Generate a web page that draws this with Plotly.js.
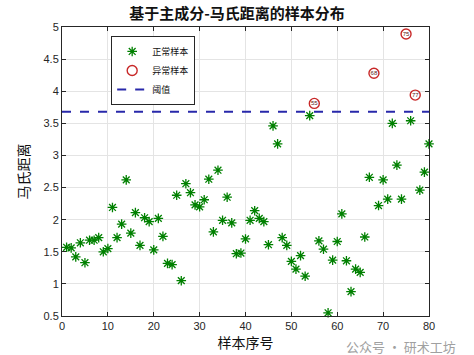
<!DOCTYPE html>
<html>
<head>
<meta charset="utf-8">
<script src="https://cdn.plot.ly/plotly-3.0.1.min.js"></script>
<style>html,body{margin:0;padding:0;background:#fff;}#chart{width:474px;height:355px;}</style>
</head>
<body>
<div id="chart"></div>
<script>
// Sample index 1..80; normal samples (anomalies 55, 68, 75, 77 excluded)
const normalIdx = [1,2,3,4,5,6,7,8,9,10,11,12,13,14,15,16,17,18,19,20,
  21,22,23,24,25,26,27,28,29,30,31,32,33,34,35,36,37,38,39,40,
  41,42,43,44,45,46,47,48,49,50,51,52,53,54,56,57,58,59,60,
  61,62,63,64,65,66,67,69,70,71,72,73,74,76,78,79,80];
const normalDist = [1.57,1.56,1.42,1.64,1.33,1.68,1.68,1.72,1.50,1.55,2.19,1.72,1.93,2.62,1.79,2.11,1.60,2.03,1.97,1.53,
  2.02,1.74,1.32,1.30,2.38,1.05,2.56,2.42,2.23,2.20,2.31,2.63,1.81,2.77,1.99,2.35,1.95,1.47,1.48,1.70,
  1.99,2.14,2.02,1.97,1.61,3.46,3.18,1.72,1.60,1.35,1.23,1.44,1.12,3.62,1.67,1.54,0.55,1.37,1.66,
  2.09,1.36,0.88,1.23,1.18,1.73,2.66,2.22,2.62,2.32,3.50,2.85,2.32,3.54,2.46,2.74,3.18];
const anomalyIdx = [55,68,75,77];
const anomalyDist = [3.81,4.28,4.89,3.94];
const threshold = 3.68;
const xRange = [0,80];
const yRange = [0.5,5];
const xTicks = [0,10,20,30,40,50,60,70,80];
const yTicks = [0.5,1,1.5,2,2.5,3,3.5,4,4.5,5];

const traces = [
  {x: normalIdx, y: normalDist, type:'scatter', mode:'markers', name:'正常样本',
   marker:{symbol:'asterisk-open', size:8, color:'rgb(0,128,0)', line:{color:'rgb(0,128,0)', width:1.3}},
   cliponaxis:false},
  {x: anomalyIdx, y: anomalyDist, type:'scatter', mode:'markers+text', name:'异常样本',
   text: anomalyIdx.map(String), textposition:'middle center',
   textfont:{size:6, color:'#5a2020', family:'Liberation Sans, Arial, sans-serif'},
   marker:{symbol:'circle-open', size:10, color:'rgb(200,40,40)', line:{color:'rgb(200,40,40)', width:1.4}},
   cliponaxis:false},
  {x: xRange, y: [threshold, threshold], type:'scatter', mode:'lines', name:'阈值',
   line:{color:'rgb(40,40,170)', width:2, dash:'dash'}}
];

const axisCommon = {
  showline:true, linecolor:'#262626', linewidth:1, mirror:'ticks',
  ticks:'inside', ticklen:4, tickcolor:'#262626',
  showgrid:true, gridcolor:'#e4e4e4', gridwidth:1, zeroline:false,
  tickfont:{family:'Liberation Sans, Arial, sans-serif', size:11, color:'#262626'}
};

const layout = {
  width:474, height:355,
  margin:{l:62, r:45, t:27, b:39},
  paper_bgcolor:'#fff', plot_bgcolor:'#fff',
  showlegend:true,
  title:{text:'<b>基于主成分-马氏距离的样本分布</b>', x:0.5, xanchor:'center', y:0.962, yanchor:'middle',
    font:{family:'Noto Sans CJK SC, sans-serif', size:15, color:'#111'}},
  xaxis:Object.assign({}, axisCommon, {range:xRange, tickvals:xTicks, ticktext:xTicks.map(String),
    title:{text:'样本序号', standoff:2, font:{family:'Noto Sans CJK SC, sans-serif', size:14, color:'#111'}}}),
  yaxis:Object.assign({}, axisCommon, {range:yRange, tickvals:yTicks, ticktext:yTicks.map(String),
    title:{text:'马氏距离', standoff:10, font:{family:'Noto Sans CJK SC, sans-serif', size:14, color:'#111'}}}),
  legend:{x:0.134, y:0.969, xanchor:'left', yanchor:'top', bgcolor:'#fff', bordercolor:'#262626', borderwidth:1,
    font:{family:'Noto Sans CJK SC, sans-serif', size:9, color:'#111'}, tracegroupgap:0, itemwidth:30},
  annotations:[{xref:'paper', yref:'paper', x:1.08, y:-0.065, xanchor:'right', yanchor:'top', showarrow:false,
    text:'公众号 · 研术工坊', font:{family:'Noto Sans CJK SC, sans-serif', size:13, color:'#a0a0a0'}}]
};

Plotly.newPlot('chart', traces, layout, {displayModeBar:false, staticPlot:true});
</script>
</body>
</html>
